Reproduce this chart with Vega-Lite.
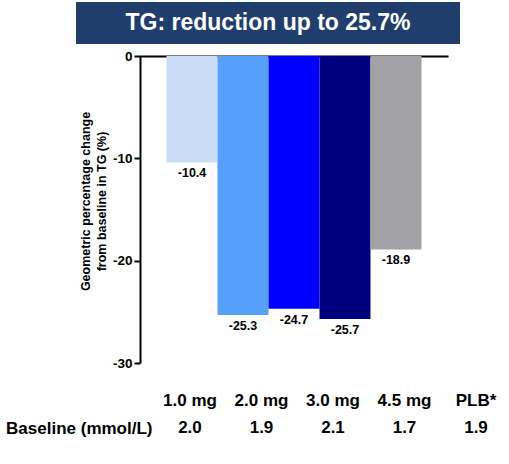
{
  "$schema": "https://vega.github.io/schema/vega-lite/v6.json",
  "padding": {"left": 5, "top": 2, "right": 0, "bottom": 0},
  "config": {
    "view": {"stroke": null},
    "font": "Liberation Sans"
  },
  "spacing": 17,
  "vconcat": [
    {
      "spacing": 5,
      "vconcat": [
        {
          "width": 384,
          "height": 42,
          "view": {"fill": "#1f3e6c", "stroke": null},
          "data": {"values": [{"title": "TG: reduction up to 25.7%"}]},
          "mark": {"type": "text", "color": "white", "fontSize": 23, "fontWeight": "bold", "font": "Liberation Sans"},
          "encoding": {"text": {"field": "title", "type": "nominal"}}
        },
        {
          "spacing": 0,
          "hconcat": [
            {
              "width": 3,
              "height": 10,
              "data": {"values": []},
              "mark": "point"
            },
            {
              "width": 308,
              "height": 307,
              "data": {
                "values": [
                  {"group": "1.0 mg", "value": -10.4},
                  {"group": "2.0 mg", "value": -25.3},
                  {"group": "3.0 mg", "value": -24.7},
                  {"group": "4.5 mg", "value": -25.7},
                  {"group": "PLB*", "value": -18.9}
                ]
              },
              "encoding": {
                "x": {
                  "field": "group",
                  "type": "nominal",
                  "sort": null,
                  "scale": {"paddingInner": 0, "paddingOuter": 0.52},
                  "axis": {"orient": "top", "labels": false, "ticks": false, "title": null, "domainColor": "black", "domainWidth": 2}
                },
                "y": {
                  "field": "value",
                  "type": "quantitative",
                  "scale": {"domain": [-30, 0], "nice": false},
                  "axis": {
                    "values": [0, -10, -20, -30],
                    "labelExpr": "'' + datum.value",
                    "grid": false,
                    "domainColor": "black",
                    "domainWidth": 2,
                    "tickColor": "black",
                    "tickWidth": 2,
                    "tickSize": 6,
                    "labelPadding": 2,
                    "labelFontSize": 13.5,
                    "labelFontWeight": "bold",
                    "labelColor": "black",
                    "title": ["Geometric percentage change", "from baseline in TG (%)"],
                    "titleFontSize": 12.5,
                    "titleFontWeight": "bold",
                    "titleColor": "black",
                    "titleLineHeight": 16,
                    "titlePadding": 4,
                    "titleY": 145
                  }
                }
              },
              "layer": [
                {
                  "mark": {"type": "bar"},
                  "encoding": {
                    "color": {
                      "field": "group",
                      "type": "nominal",
                      "sort": null,
                      "scale": {"range": ["#c9ddf7", "#569ffb", "#0000ff", "#00007f", "#a1a1a6"]},
                      "legend": null
                    }
                  }
                },
                {
                  "mark": {"type": "text", "baseline": "top", "dy": 5, "fontSize": 12.5, "fontWeight": "bold", "color": "black"},
                  "encoding": {"text": {"field": "value", "type": "nominal"}}
                }
              ]
            }
          ]
        }
      ]
    },
    {
      "width": 400,
      "height": 55,
      "data": {
        "values": [
          {"row": "dose", "col": "1.0 mg", "text": "1.0 mg"},
          {"row": "dose", "col": "2.0 mg", "text": "2.0 mg"},
          {"row": "dose", "col": "3.0 mg", "text": "3.0 mg"},
          {"row": "dose", "col": "4.5 mg", "text": "4.5 mg"},
          {"row": "dose", "col": "PLB*", "text": "PLB*"},
          {"row": "Baseline (mmol/L)", "col": "1.0 mg", "text": "2.0"},
          {"row": "Baseline (mmol/L)", "col": "2.0 mg", "text": "1.9"},
          {"row": "Baseline (mmol/L)", "col": "3.0 mg", "text": "2.1"},
          {"row": "Baseline (mmol/L)", "col": "4.5 mg", "text": "1.7"},
          {"row": "Baseline (mmol/L)", "col": "PLB*", "text": "1.9"}
        ]
      },
      "mark": {"type": "text", "fontSize": 17, "fontWeight": "bold", "color": "black"},
      "encoding": {
        "x": {"field": "col", "type": "nominal", "sort": null, "scale": {"type": "point", "padding": 0.797, "align": 1}, "axis": null},
        "y": {
          "field": "row",
          "type": "nominal",
          "sort": null,
          "scale": {"type": "point", "padding": 0.5},
          "axis": {
            "domain": false,
            "ticks": false,
            "offset": -83,
            "labelPadding": 7,
            "labelFontSize": 17,
            "labelFontWeight": "bold",
            "labelColor": "black",
            "labelExpr": "datum.value == 'dose' ? '' : datum.value",
            "title": null
          }
        },
        "text": {"field": "text", "type": "nominal"}
      }
    }
  ]
}
